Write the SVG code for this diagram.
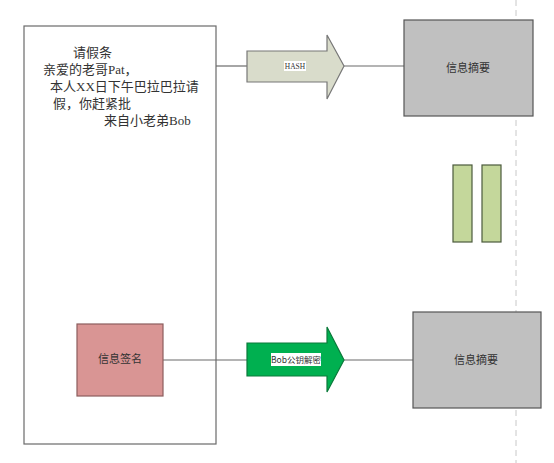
<svg xmlns="http://www.w3.org/2000/svg" width="554" height="463" viewBox="0 0 554 463">
<style>
.conn{stroke:#6a6a6a;stroke-width:1.2;fill:none}
.box{fill:#c0c0c0;stroke:#555;stroke-width:1.2}
.bar{fill:#c4d79b;stroke:#4b5a3c;stroke-width:1.2}
.t{font-family:"Noto Sans CJK SC","Noto Sans",sans-serif;fill:#333}
.s{font-family:"Liberation Serif","Noto Sans CJK SC",serif;font-size:13px;fill:#333}
</style>
<rect width="554" height="463" fill="#fff"/>
<line x1="516" y1="0" x2="516" y2="463" stroke="#c8c8c8" stroke-width="1" stroke-dasharray="6,4"/>
<g id="letter">
<rect x="24" y="26" width="192" height="418" fill="#fff" stroke="#6a6a6a" stroke-width="1.2"/>
<text class="s" x="73" y="57">请假条</text>
<text class="s" x="43" y="74">亲爱的老哥Pat，</text>
<text class="s" x="50" y="91">本人XX日下午巴拉巴拉请</text>
<text class="s" x="53" y="108">假，你赶紧批</text>
<text class="s" x="104" y="125">来自小老弟Bob</text>
</g>
<g id="connectors">
<line class="conn" x1="216" y1="66" x2="247" y2="66"/>
<line class="conn" x1="344" y1="66" x2="404" y2="66"/>
<line class="conn" x1="163" y1="360" x2="247" y2="360"/>
<line class="conn" x1="344" y1="360" x2="413" y2="360"/>
</g>
<g id="hash-arrow">
<polygon points="247,51 327,51 327,35 344,66 327,99 327,82 247,82" fill="#d9dccb" stroke="#777" stroke-width="1.2"/>
<rect x="284" y="61" width="22" height="10" fill="#fff"/>
<text x="295" y="69" text-anchor="middle" font-family="Liberation Serif,serif" font-size="7.5" fill="#333">HASH</text>
</g>
<g id="digest-top">
<rect class="box" x="404" y="20" width="129" height="96"/>
<text class="t" x="468" y="72" text-anchor="middle" font-size="11">信息摘要</text>
</g>
<g id="equals">
<rect class="bar" x="453" y="165" width="19" height="77"/>
<rect class="bar" x="482" y="165" width="19" height="77"/>
</g>
<g id="signature">
<rect x="77" y="324" width="86" height="72" fill="#d99594" stroke="#8c5e5e" stroke-width="1.2"/>
<text class="t" x="120" y="363" text-anchor="middle" font-size="11">信息签名</text>
</g>
<g id="decrypt-arrow">
<polygon points="247,343 327,343 327,327 344,360 327,392 327,376 247,376" fill="#00b050" stroke="#0a7a3a" stroke-width="1.2"/>
<rect x="271" y="353" width="50" height="13" fill="#fff"/>
<text class="t" x="296" y="363" text-anchor="middle" font-size="8.5">Bob公钥解密</text>
</g>
<g id="digest-bottom">
<rect class="box" x="413" y="312" width="128" height="96"/>
<text class="t" x="476" y="364" text-anchor="middle" font-size="11">信息摘要</text>
</g>
</svg>
